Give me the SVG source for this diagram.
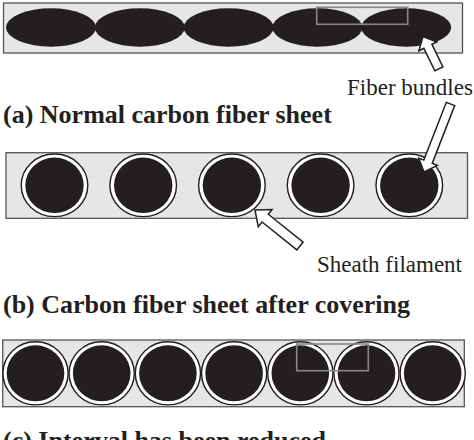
<svg xmlns="http://www.w3.org/2000/svg" width="474" height="440" viewBox="0 0 474 440">
<style>
.sheet{fill:#e6e6e6;stroke:#555;stroke-width:1.3}
.bundle{fill:#231f20}
.ring{fill:#fff;stroke:#231f20;stroke-width:1.4}
.hl{fill:none;stroke:#888;stroke-width:1.6}
.arrow{fill:#fff;stroke:#231f20;stroke-width:1.5;stroke-linejoin:miter}
.cap{font-family:"Liberation Serif","Times New Roman",serif;font-weight:bold;font-size:26px;fill:#231f20}
.lbl{font-family:"Liberation Serif","Times New Roman",serif;font-size:23px;fill:#231f20}
</style>
<defs>
<ellipse id="e" rx="45" ry="19.2" class="bundle"/>
<g id="c5"><ellipse rx="33.3" ry="31.3" class="ring"/><ellipse rx="29.2" ry="27.7" class="bundle"/></g>
<g id="c7"><ellipse rx="32.6" ry="31.6" class="ring"/><ellipse rx="28.8" ry="28" class="bundle"/></g>
</defs>
<g id="panel-a">
<rect class="sheet" x="3.5" y="3" width="459" height="50"/>
<use href="#e" x="51" y="27.5"/>
<use href="#e" x="139.8" y="27.5"/>
<use href="#e" x="228.6" y="27.5"/>
<use href="#e" x="317.4" y="27.5"/>
<use href="#e" x="406.2" y="27.5"/>
<rect class="hl" x="316.7" y="7.3" width="91" height="17"/>
<text class="cap" x="3" y="122.5">(a) Normal carbon fiber sheet</text>
</g>
<g id="panel-b">
<rect class="sheet" x="6" y="152.7" width="461.5" height="65.6"/>
<use href="#c5" x="54.5" y="185.3"/>
<use href="#c5" x="143.2" y="185.3"/>
<use href="#c5" x="231.9" y="185.3"/>
<use href="#c5" x="320.6" y="185.3"/>
<use href="#c5" x="409.3" y="185.3"/>
<text class="cap" x="3" y="313">(b) Carbon fiber sheet after covering</text>
</g>
<g id="panel-c">
<rect class="sheet" x="2.7" y="340" width="461.6" height="66.7"/>
<use href="#c7" x="35.5" y="373.3"/>
<use href="#c7" x="101.7" y="373.3"/>
<use href="#c7" x="167.9" y="373.3"/>
<use href="#c7" x="234.1" y="373.3"/>
<use href="#c7" x="300.3" y="373.3"/>
<use href="#c7" x="366.5" y="373.3"/>
<use href="#c7" x="432.7" y="373.3"/>
<rect class="hl" x="296.7" y="344" width="71.6" height="26.7"/>
<text class="cap" x="3" y="448.7">(c) Interval has been reduced</text>
</g>
<g id="label-fiber-bundles"><text class="lbl" x="347" y="95">Fiber bundles</text></g>
<g id="label-sheath-filament"><text class="lbl" x="317" y="271.7">Sheath filament</text></g>
<g id="connectors">
<polygon class="arrow" transform="translate(423,36.5) rotate(63.8)" points="0,0 11,-10 11,-4.5 36,-4.5 36,4.5 11,4.5 11,10"/>
<polygon class="arrow" transform="translate(424,172) rotate(-68.7)" points="0,0 11,-10 11,-4.5 73,-4.5 73,4.5 11,4.5 11,10"/>
<polygon class="arrow" transform="translate(255,210) rotate(38.66)" points="0,0 13,-11 13,-5 57.6,-5 57.6,5 13,5 13,11"/>
</g>
</svg>
